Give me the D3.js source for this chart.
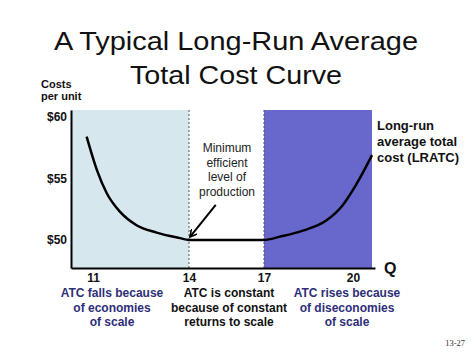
<!DOCTYPE html>
<html><head><meta charset="utf-8">
<script src="https://cdn.jsdelivr.net/npm/d3@7"></script>
<style>
body{margin:0;background:#fff;}
svg{display:block;font-family:"Liberation Sans",Arial,Helvetica,sans-serif;}
</style></head>
<body>
<svg id="c" width="474" height="355"></svg>
<script>
// ---- data ----
const titleLines = ["A Typical Long-Run Average", "Total Cost Curve"];
const titleWidths = [364, 212];
const xTicks = [11, 14, 17, 20];
const yTicks = [50, 55, 60];
const curveQ    = [10.80, 11.12, 11.43, 11.84, 12.36, 12.99, 13.72, 14.00, 17.00, 17.54, 18.31, 19.11, 19.66, 20.13, 20.64];
const curveCost = [58.4, 55.7, 53.8, 52.3, 51.2, 50.6, 50.15, 50.0, 50.0, 50.27, 50.76, 51.6, 52.85, 54.6, 56.9];
const economiesBand = [10.31, 14];
const diseconomiesBand = [17, 20.64];
const arrowFrom = [15.07, 52.85];
const arrowTo = [14.04, 50.25];
const minLabel = ["Minimum", "efficient", "level of", "production"];
const lratcLabel = ["Long-run", "average total", "cost (LRATC)"];
const leftNote = ["ATC falls because", "of economies", "of scale"];
const midNote = ["ATC is constant", "because of constant", "returns to scale"];
const rightNote = ["ATC rises because", "of diseconomies", "of scale"];
const yLabel = ["Costs", "per unit"];

const svg = d3.select("#c");
const navy = "#2e2e78";

// scales (piecewise linear x to follow the slide's uneven spacing)
const x = d3.scaleLinear()
  .domain([10.31, 11, 14, 17, 20, 20.74])
  .range([71, 93, 189, 264, 353, 375]);
const y = d3.scaleLinear().domain([47.72, 60.57]).range([268, 110]);

// title
svg.append("g").selectAll("text").data(titleLines).join("text")
  .attr("x", (d, i) => 236 - titleWidths[i] / 2).attr("y", (d, i) => 50 + i * 34)
  .attr("font-size", 26).attr("fill", "#111")
  .attr("textLength", (d, i) => titleWidths[i]).attr("lengthAdjust", "spacingAndGlyphs")
  .text(d => d);

// bands
svg.append("rect").attr("x", x(economiesBand[0])).attr("y", y(60.57))
  .attr("width", x(economiesBand[1]) - x(economiesBand[0]))
  .attr("height", y(47.72) - y(60.57)).attr("fill", "#d6e8ee");
svg.append("rect").attr("x", x(diseconomiesBand[0])).attr("y", y(60.57))
  .attr("width", x(diseconomiesBand[1]) - x(diseconomiesBand[0]))
  .attr("height", y(47.72) - y(60.57)).attr("fill", "#6868cc");

// dotted verticals
svg.append("g").selectAll("line").data([14, 17]).join("line")
  .attr("x1", d => x(d)).attr("x2", d => x(d))
  .attr("y1", y(60.57)).attr("y2", y(47.72))
  .attr("stroke", "#555").attr("stroke-width", 1).attr("stroke-dasharray", "2,2");

// axes
const xAxis = svg.append("g").attr("transform", `translate(0,${y(47.72)})`)
  .call(d3.axisBottom(x).tickValues(xTicks).tickSize(0).tickSizeOuter(0).tickPadding(5));
xAxis.select(".domain").attr("stroke", "#000").attr("stroke-width", 2);
xAxis.selectAll("text").attr("font-size", 12).attr("font-weight", "bold")
  .attr("fill", "#111").attr("font-family", "Liberation Sans, Arial, sans-serif");

const yAxis = svg.append("g").attr("transform", `translate(${x(10.31)},0)`)
  .call(d3.axisLeft(y).tickValues(yTicks).tickSize(0).tickSizeOuter(0).tickPadding(4)
    .tickFormat(d => "$" + d));
yAxis.select(".domain").attr("stroke", "#000").attr("stroke-width", 2);
yAxis.selectAll("text").attr("font-size", 12).attr("font-weight", "bold")
  .attr("fill", "#111").attr("font-family", "Liberation Sans, Arial, sans-serif");

// y label
svg.append("g").selectAll("text").data(yLabel).join("text")
  .attr("x", 41).attr("y", (d, i) => 88 + i * 11.5)
  .attr("font-size", 11).attr("font-weight", "bold").attr("fill", "#111")
  .text(d => d);

// Q label
svg.append("text").attr("x", 384).attr("y", 274)
  .attr("font-size", 16).attr("font-weight", "bold").attr("fill", "#111").text("Q");

// curve
const pts = curveQ.map((q, i) => [q, curveCost[i]]);
svg.append("path").datum(pts)
  .attr("d", d3.line().x(d => x(d[0])).y(d => y(d[1])).curve(d3.curveMonotoneX))
  .attr("fill", "none").attr("stroke", "#000").attr("stroke-width", 2.5);

// arrow
svg.append("defs").append("marker").attr("id", "ah")
  .attr("viewBox", "0 0 10 10").attr("refX", 9).attr("refY", 5)
  .attr("markerWidth", 8).attr("markerHeight", 8).attr("orient", "auto")
  .attr("markerUnits", "userSpaceOnUse")
  .append("path").attr("d", "M0,0 L9,5 L0,10").attr("fill", "none")
  .attr("stroke", "#000").attr("stroke-width", 2);
svg.append("line")
  .attr("x1", x(arrowFrom[0])).attr("y1", y(arrowFrom[1]))
  .attr("x2", x(arrowTo[0])).attr("y2", y(arrowTo[1]))
  .attr("stroke", "#000").attr("stroke-width", 2).attr("marker-end", "url(#ah)");

// minimum efficient label
svg.append("g").selectAll("text").data(minLabel).join("text")
  .attr("x", 227).attr("y", (d, i) => 152 + i * 14.5)
  .attr("text-anchor", "middle").attr("font-size", 12).attr("fill", "#222")
  .text(d => d);

// LRATC label
svg.append("g").selectAll("text").data(lratcLabel).join("text")
  .attr("x", 377).attr("y", (d, i) => 130 + i * 16)
  .attr("font-size", 13).attr("font-weight", "bold").attr("fill", "#111")
  .text(d => d);

// bottom notes
function note(lines, cx, color) {
  svg.append("g").selectAll("text").data(lines).join("text")
    .attr("x", cx).attr("y", (d, i) => 297 + i * 14.5)
    .attr("text-anchor", "middle").attr("font-size", 12).attr("font-weight", "bold")
    .attr("fill", color).text(d => d);
}
note(leftNote, 112, navy);
note(midNote, 229, "#111");
note(rightNote, 347, navy);

// page number
svg.append("text").attr("x", 465).attr("y", 346).attr("text-anchor", "end")
  .attr("font-size", 8.5).attr("font-family", "Liberation Serif, serif").attr("fill", "#333")
  .text("13-27");
</script>
</body></html>
